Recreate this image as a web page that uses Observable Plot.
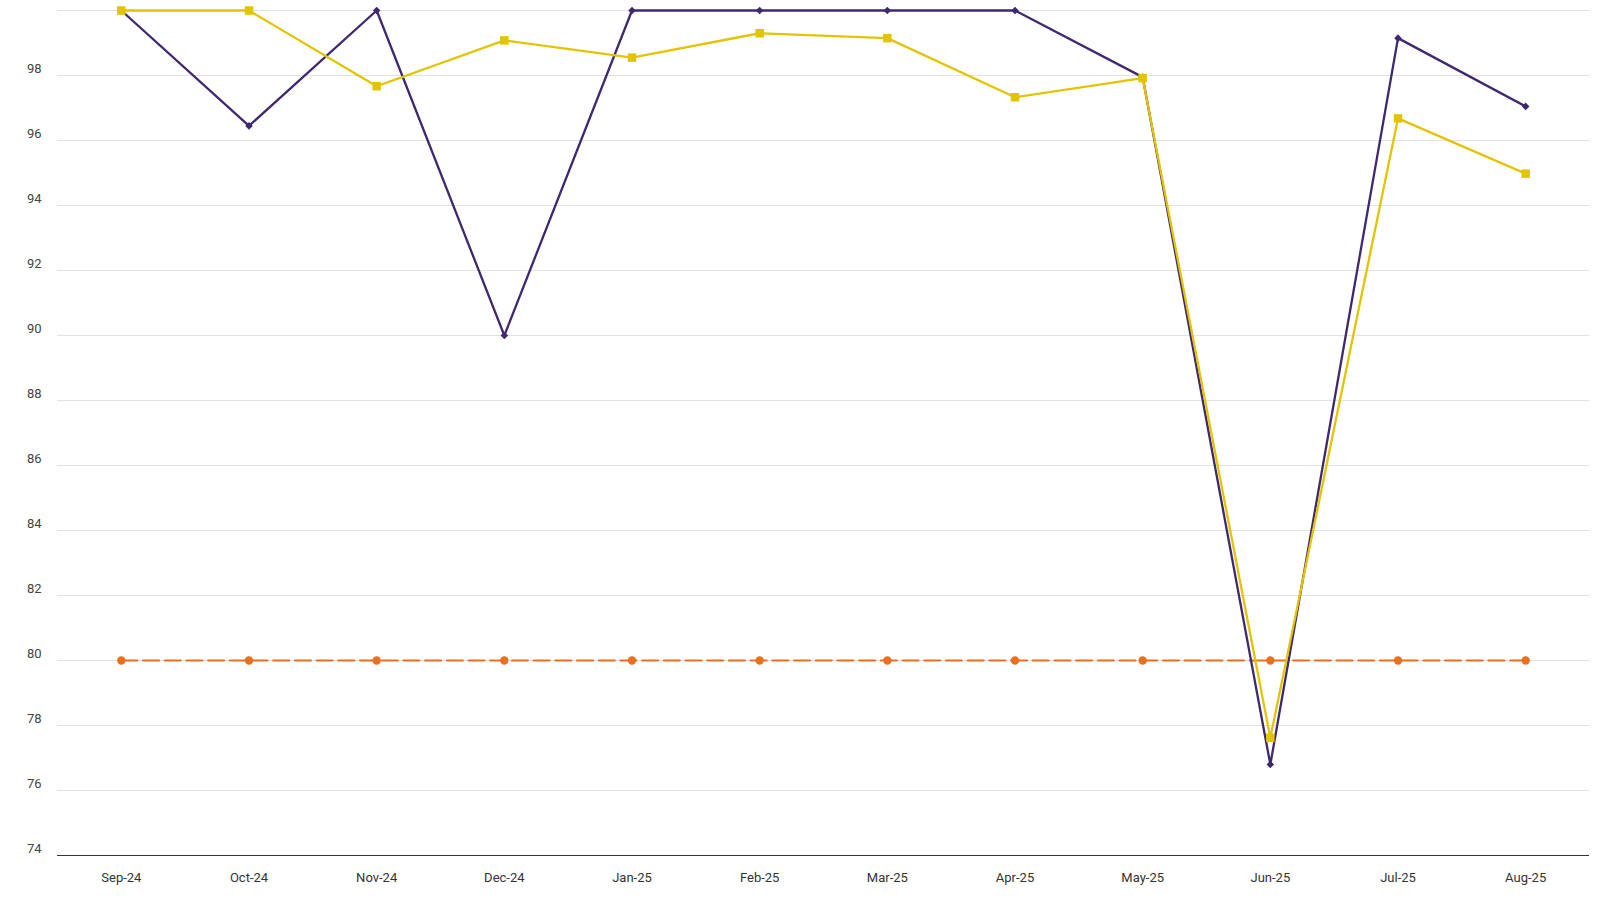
<!DOCTYPE html>
<html>
<head>
<meta charset="utf-8">
<script src="https://cdn.jsdelivr.net/npm/d3@7"></script>
<script src="https://cdn.jsdelivr.net/npm/@observablehq/plot@0.6"></script>
<style>
  html, body { margin: 0; padding: 0; background: #fff; }
  #chart svg { display: block; }
</style>
</head>
<body>
<div id="chart"></div>
<script>
const months = ["Sep-24","Oct-24","Nov-24","Dec-24","Jan-25","Feb-25","Mar-25","Apr-25","May-25","Jun-25","Jul-25","Aug-25"];
const purpleValues = [100, 96.45, 100, 90, 100, 100, 100, 100, 97.95, 76.8, 99.15, 97.05];
const yellowValues = [100, 100, 97.67, 99.08, 98.55, 99.3, 99.15, 97.33, 97.92, 77.62, 96.68, 94.98];
const targetValues = [80, 80, 80, 80, 80, 80, 80, 80, 80, 80, 80, 80];
const yTickLabels = [74, 76, 78, 80, 82, 84, 86, 88, 90, 92, 94, 96, 98];
const gridValues = [76, 78, 80, 82, 84, 86, 88, 90, 92, 94, 96, 98, 100];

const purple = "#3f2870";
const yellow = "#e3c400";
const orange = "#e8701f";

const mk = (vals) => months.map((m, i) => ({month: m, value: vals[i]}));
const purpleData = mk(purpleValues);
const yellowData = mk(yellowValues);
const targetData = mk(targetValues);

const chart = Plot.plot({
  width: 1600,
  height: 900,
  marginLeft: 57,
  marginRight: 11,
  marginTop: 10,
  marginBottom: 45,
  style: {fontFamily: "Roboto, sans-serif", fontSize: "13px", color: "#333", background: "#fff"},
  x: {type: "point", domain: months, padding: 0.5, round: false, label: null},
  y: {domain: [74, 100], label: null},
  marks: [
    Plot.ruleY(gridValues, {stroke: "#e2e2e2", strokeWidth: 1}),
    Plot.ruleY([74], {stroke: "#333", strokeWidth: 1.2}),
    Plot.axisY({ticks: yTickLabels, tickSize: 0, tickPadding: 16, dy: -7, label: null, fill: "#444", fontSize: 13}),
    Plot.axisX({tickSize: 0, tickPadding: 17, label: null, fill: "#333", fontSize: 13}),
    Plot.line(targetData, {x: "month", y: "value", stroke: orange, strokeWidth: 2.2, strokeDasharray: "16,5.7"}),
    Plot.dot(targetData, {x: "month", y: "value", fill: orange, r: 4.2, symbol: "circle"}),
    Plot.line(purpleData, {x: "month", y: "value", stroke: purple, strokeWidth: 2.3}),
    Plot.dot(purpleData, {x: "month", y: "value", fill: purple, r: 3.4, symbol: "diamond2"}),
    Plot.line(yellowData, {x: "month", y: "value", stroke: yellow, strokeWidth: 2.3}),
    Plot.dot(yellowData, {x: "month", y: "value", fill: yellow, r: 4.8, symbol: "square"})
  ]
});
document.getElementById("chart").appendChild(chart);
</script>
</body>
</html>
